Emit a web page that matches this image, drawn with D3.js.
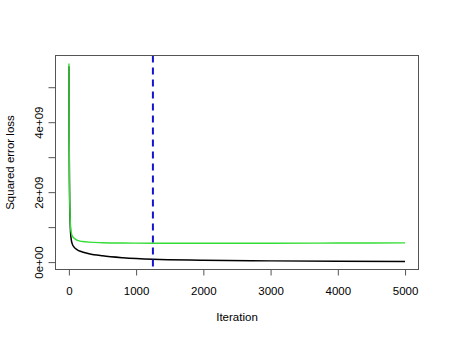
<!DOCTYPE html>
<html><head><meta charset="utf-8">
<script src="https://cdn.jsdelivr.net/npm/d3@7"></script>
<style>body{margin:0;background:#fff}svg{display:block}text{font-family:"Liberation Sans",Arial,sans-serif;fill:#000}</style>
</head><body>
<script>
// Data
const iterations = [1,3,5,8,12,18,25,35,50,80,120,170,200,300,500,800,1250,2000,3000,4000,5000];
const validLoss = [5.68,4.5,3.5,2.5,1.8,1.3,1.0,0.85,0.75,0.68,0.63,0.6,0.59,0.57,0.555,0.545,0.54,0.54,0.54,0.545,0.55].map(v=>v*1e9);
const trainLoss = [5.6,4.4,3.4,2.4,1.7,1.2,0.85,0.65,0.52,0.42,0.36,0.31,0.29,0.24,0.18,0.125,0.08,0.055,0.035,0.022,0.015].map(v=>v*1e9);
const stopIteration = 1250;
const xTicks = [0,1000,2000,3000,4000,5000];
const yTicks = [0,1e9,2e9,3e9,4e9,5e9];
const yTickLabels = ["0e+00","","2e+09","","4e+09",""];

const W=474,H=338;
const L=55.5,R=418.5,T=55.5,B=269.5;
const svg=d3.select("body").append("svg").attr("width",W).attr("height",H);

const xMin=1,xMax=5000;
const xPad=(xMax-xMin)*0.04;
const x=d3.scaleLinear().domain([xMin-xPad,xMax+xPad]).range([L,R]);
const allY=validLoss.concat(trainLoss);
const yMin=d3.min(allY), yMax=d3.max(allY);
const yPad=(yMax-yMin)*0.04;
const y=d3.scaleLinear().domain([yMin-yPad,yMax+yPad]).range([B,T]);

const line=(vals)=>d3.line().x((d,i)=>x(iterations[i])).y(d=>y(d)).curve(d3.curveMonotoneX)(vals);

svg.append("path").attr("d",line(trainLoss)).attr("fill","none").attr("stroke","#000").attr("stroke-width",1.5);
svg.append("path").attr("d",line(validLoss)).attr("fill","none").attr("stroke","#33dd33").attr("stroke-width",1.4);

svg.append("line").attr("x1",x(stopIteration)).attr("x2",x(stopIteration)).attr("y1",T).attr("y2",B)
  .attr("stroke","#1515d0").attr("stroke-width",2).attr("stroke-dasharray","7,5");

// box
svg.append("rect").attr("x",L).attr("y",T).attr("width",R-L).attr("height",B-T).attr("fill","none").attr("stroke","#555").attr("stroke-width",1);

// x axis
const xa=svg.append("g").attr("transform",`translate(0,${B})`)
  .call(d3.axisBottom(x).tickValues(xTicks).tickSize(6).tickFormat(d3.format("d")));
xa.select(".domain").attr("d",`M${x(0)},0H${x(5000)}`).attr("stroke","#555");
xa.selectAll(".tick line").attr("stroke","#555");
xa.selectAll("text").attr("font-size","11.5px").attr("dy","0").attr("y",25).attr("font-family","Liberation Sans, Arial");

// y axis
const ya=svg.append("g").attr("transform",`translate(${L},0)`)
  .call(d3.axisLeft(y).tickValues(yTicks).tickSize(7).tickFormat((d,i)=>yTickLabels[i]));
ya.select(".domain").attr("d",`M0,${y(0)}V${y(5e9)}`).attr("stroke","#555");
ya.selectAll(".tick line").attr("stroke","#555");
ya.selectAll("text").attr("font-size","11.5px").attr("x",0).attr("dy","0")
  .attr("transform","translate(-17,0) rotate(-90)").attr("text-anchor","middle").attr("dominant-baseline","central")
  .attr("font-family","Liberation Sans, Arial");

svg.append("text").attr("x",(L+R)/2).attr("y",321).attr("text-anchor","middle").attr("font-size","11.5px").text("Iteration");
svg.append("text").attr("transform",`translate(14,${(T+B)/2}) rotate(-90)`).attr("text-anchor","middle").attr("font-size","11.5px").text("Squared error loss");
</script>
</body></html>
